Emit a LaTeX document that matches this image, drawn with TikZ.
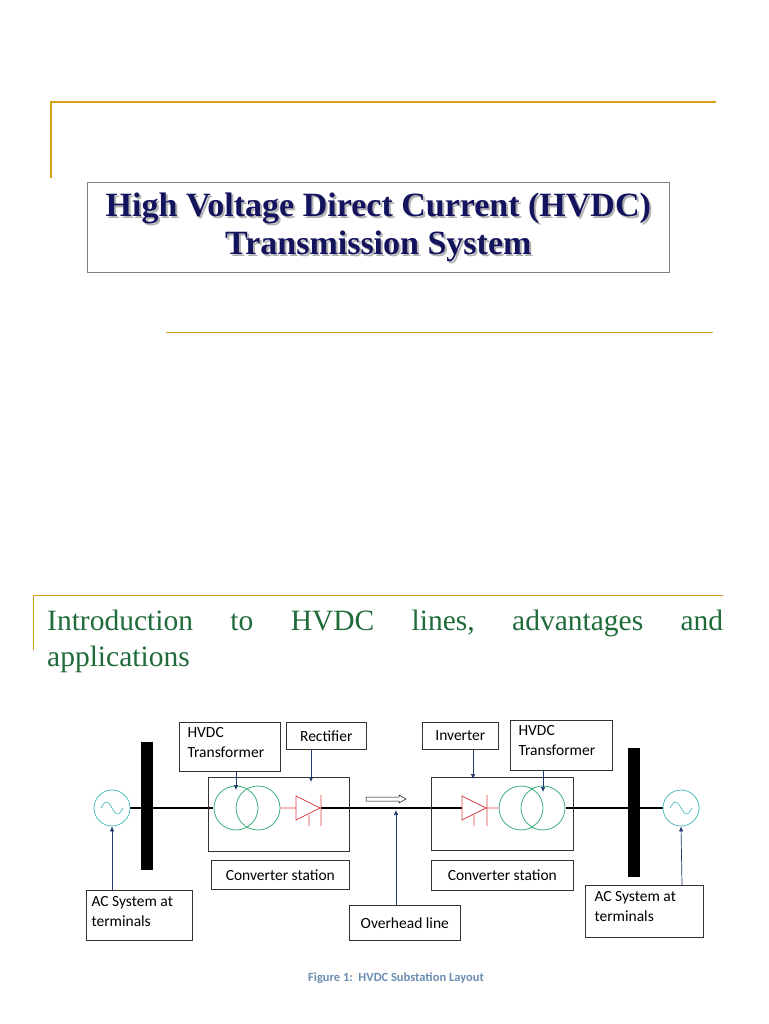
\documentclass[tikz,border=0pt]{standalone}
\usepackage{fontspec}
\setmainfont{Liberation Serif}
\newfontfamily\lbl{Carlito}
\usetikzlibrary{arrows.meta}
\definecolor{mygold}{RGB}{214,160,24}
\definecolor{navy}{HTML}{14145E}
\definecolor{introgreen}{HTML}{1F6B3A}
\definecolor{teal}{HTML}{3BB3B3}
\definecolor{tgreen}{HTML}{3CB07A}
\definecolor{dred}{HTML}{D9404A}
\definecolor{arr}{HTML}{1F3A6E}
\definecolor{capc}{HTML}{6B8DB0}
\begin{document}
\begin{tikzpicture}[x=1pt,y=-1pt,
  lbox/.style={draw=black!80,line width=0.6pt,inner sep=0pt,anchor=north west},
  lt/.style={font=\lbl\fontsize{15.5}{20}\selectfont,align=left},
  pt/.style={draw=arr,line width=0.7pt,-{Latex[length=5pt,width=4.5pt]}},
  bus/.style={fill=black}]
\useasboundingbox (0,0) rectangle (768,1024);
% gold decorations
\draw[mygold,line width=1.2pt] (51,178) -- (51,102) -- (716,102);
\draw[mygold,line width=0.9pt] (166,332) -- (713,332);
\draw[mygold,line width=0.9pt] (33,650) -- (33,595) -- (723,595);
% title
\node[draw=black!50,line width=0.6pt,minimum width=582pt,minimum height=90pt,anchor=north west] (tb) at (87,182) {};
\foreach \dx/\c in {2/black!30,0/navy}{
\node[text=\c,font=\bfseries\fontsize{34}{38}\selectfont,align=center] at ([xshift=\dx pt,yshift=-\dx pt]tb.center) {High Voltage Direct Current (HVDC)\\Transmission System};}
% intro
\node[text=introgreen,font=\fontsize{29.5}{36}\selectfont,text width=676pt,align=left,anchor=north west,inner sep=0pt] (intro) at (47,610) {Introduction\hfill to\hfill HVDC\hfill lines,\hfill advantages\hfill and\\applications};
% main line
\coordinate (L) at (130,808); \coordinate (R) at (663,808);
\draw[line width=1.6pt] (L) -- (213,808);
\draw[line width=1.6pt] (321,808) -- (462,808);
\draw[line width=1.6pt] (566,808) -- (R);
% sources
\node[draw=teal,circle,minimum size=36pt,inner sep=0pt,line width=0.7pt] (srcL) at (112,808) {};
\draw[teal,line width=0.6pt] (101,808) sin (106.5,802) cos (112,808) sin (117.5,814) cos (123,808);
\node[draw=teal,circle,minimum size=36pt,inner sep=0pt,line width=0.7pt] (srcR) at (681,808) {};
\draw[teal,line width=0.6pt] (670,808) sin (675.5,802) cos (681,808) sin (686.5,814) cos (692,808);
% buses
\fill[bus] (141,742) rectangle (153,870);
\fill[bus] (628,748) rectangle (640,877);
% converter boxes
\node[draw=black!80,line width=0.6pt,minimum width=141pt,minimum height=74pt,anchor=north west] (cL) at (208,777) {};
\node[draw=black!80,line width=0.6pt,minimum width=142pt,minimum height=73pt,anchor=north west] (cR) at (431,777) {};
% transformers
\draw[tgreen,line width=0.8pt] (236,808) circle (22) (258,808) circle (22);
\draw[tgreen,line width=0.8pt] (521,808) circle (22) (543,808) circle (22);
% diodes
\draw[dred,line width=0.8pt] (280,808) -- (296,808) (296,796) -- (296,820) -- (320,808) -- cycle (321,795) -- (321,826) (309,815) -- (309,826);
\draw[dred,line width=0.8pt] (487,808) -- (499,808) (462,796) -- (462,820) -- (486,808) -- cycle (487,795) -- (487,826) (474,815) -- (474,826);
% hollow arrow
\draw[line width=0.5pt] (366,797) -- (399,797) -- (399,795) -- (406,799) -- (399,803) -- (399,801) -- (366,801) -- cycle;
% labels
\node[lbox,minimum width=101pt,minimum height=49pt] (htL) at (179,722) {};
\node[lt,anchor=north west] at (184,724) {HVDC\\Transformer};
\node[lbox,minimum width=80pt,minimum height=27pt] (rect) at (286,722) {};
\node[lt] at (rect.center) {Rectifier};
\node[lbox,minimum width=76pt,minimum height=27pt] (inv) at (422,722) {};
\node[lt] at (inv.center) {Inverter};
\node[lbox,minimum width=102pt,minimum height=50pt] (htR) at (510,720) {};
\node[lt,anchor=north west] at (515,722) {HVDC\\Transformer};
\node[lbox,minimum width=138pt,minimum height=29pt] (csL) at (211,860) {};
\node[lt] at (csL.center) {Converter station};
\node[lbox,minimum width=142pt,minimum height=30pt] (csR) at (431,860) {};
\node[lt] at (csR.center) {Converter station};
\node[lbox,minimum width=106pt,minimum height=50pt] (acL) at (86,890) {};
\node[lt,anchor=north west] at (88,893) {AC System at\\terminals};
\node[lbox,minimum width=118pt,minimum height=52pt] (acR) at (585,885) {};
\node[lt,anchor=north west] at (591,888) {AC System at\\terminals};
\node[lbox,minimum width=111pt,minimum height=35pt] (oh) at (349,905) {};
\node[lt] at (oh.center) {Overhead line};
% pointers
\draw[pt] (htL.south -| 236,0) -- (236,790);
\draw[pt] (rect.south -| 311,0) -- (311,782);
\draw[pt] (inv.south -| 473,0) -- (473,779);
\draw[pt] (htR.south -| 543,0) -- (543,792);
\draw[pt] (acL.north -| 112,0) -- (srcL.south);
\draw[pt] (acR.north -| 682,0) -- (srcR.south);
\draw[pt] (oh.north -| 396,0) -- (396,810);
% caption
\node[text=capc,font=\lbl\bfseries\fontsize{12.5}{15}\selectfont] (capt) at (396,978) {Figure 1:\ \ HVDC Substation Layout};
\end{tikzpicture}
\end{document}
